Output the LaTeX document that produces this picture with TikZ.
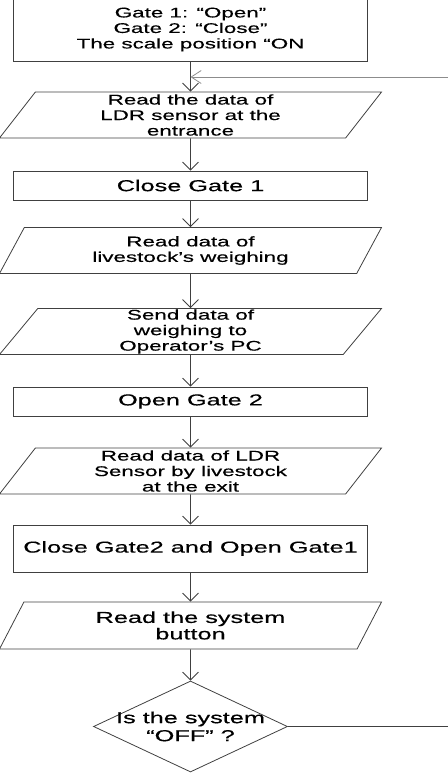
\documentclass[tikz,border=0pt]{standalone}
\usepackage{fontspec}
\setmainfont{Liberation Sans}[FakeStretch=1.6,FakeBold=0.4]
\usetikzlibrary{math}
\usetikzlibrary{shapes.geometric}
\usetikzlibrary{arrows.meta}
\definecolor{edgegray}{HTML}{404040}
\definecolor{loopgray}{HTML}{8C8C8C}

\begin{document}
\begin{tikzpicture}[x=1pt,y=-1pt,
	proc/.style={draw=edgegray,line width=0.8pt,rectangle,minimum width=354pt,minimum height=29pt,inner sep=0pt,align=center},
	io/.style={draw=edgegray,line width=0.8pt,trapezium,trapezium left angle=49,trapezium right angle=131,trapezium stretches body,minimum width=382pt,minimum height=46pt,inner sep=0pt,align=center},
	decide/.style={draw=edgegray,line width=0.8pt,diamond,minimum width=194pt,minimum height=91pt,inner sep=0pt},
	small/.style={font=\fontsize{14}{15.5}\selectfont},
	big/.style={font=\fontsize{15.8}{16.5}\selectfont},
	flow/.style={draw=edgegray,line width=0.8pt,-{Straight Barb[length=8pt,width=16pt]}}]
	\useasboundingbox (0,0) rectangle (447,773);
	\tikzmath{\cx=190.5;
	\ya=29.5; \yb=115; \yc=185.5; \yd=250.5; \ye=331.5;
	\yf=401.5; \yg=471; \yh=548.5; \yi=625.5; \yj=726.5;
	\yloop=77;
	}
	\node[proc,small,minimum height=63pt] (init) at (\cx,\ya) {Gate 1: “Open”\\Gate 2: “Close”\\The scale position “ON};
	\node[io,small] (rdent) at (\cx,\yb) {Read the data of\\LDR sensor at the\\entrance};
	\node[proc,big] (closea) at (\cx,\yc) {Close Gate 1};
	\node[io,small] (rdweigh) at (\cx,\yd) {Read data of\\livestock’s weighing};
	\node[io,small] (sendpc) at (\cx,\ye) {Send data of\\weighing to\\Operator’s PC};
	\node[proc,big] (openb) at (\cx,\yf) {Open Gate 2};
	\node[io,small] (rdexit) at (\cx,\yg) {Read data of LDR\\Sensor by livestock\\at the exit};
	\node[proc,big,minimum height=47pt] (swap) at (\cx,\yh) {Close Gate2 and Open Gate1};
	\node[io,big,minimum height=47pt] (rdbtn) at (\cx,\yi) {Read the system\\button};
	\node[decide] (offq) at (\cx,\yj) {};
	\node[font=\fontsize{15.8}{18}\selectfont,align=center] (offqtxt) at (offq.center) {Is the system\\“OFF” ?};
	\coordinate (loopin) at (450,\yloop);
	\coordinate (joinpt) at (\cx,\yloop);
	\coordinate (loopout) at (450,\yj);
	\draw[flow] (init.south) -- (rdent.north);
	\draw[flow] (rdent.south) -- (closea.north);
	\draw[flow] (closea.south) -- (rdweigh.north);
	\draw[flow] (rdweigh.south) -- (sendpc.north);
	\draw[flow] (sendpc.south) -- (openb.north);
	\draw[flow] (openb.south) -- (rdexit.north);
	\draw[flow] (rdexit.south) -- (swap.north);
	\draw[flow] (swap.south) -- (rdbtn.north);
	\draw[flow] (rdbtn.south) -- (offq.north);
	\draw[draw=loopgray,line width=0.8pt,-{Straight Barb[length=10pt,width=13pt]}] (loopin) -- (joinpt);
	\draw[draw=edgegray,line width=0.8pt] (offq.east) -- (loopout);
\end{tikzpicture}
\end{document}
